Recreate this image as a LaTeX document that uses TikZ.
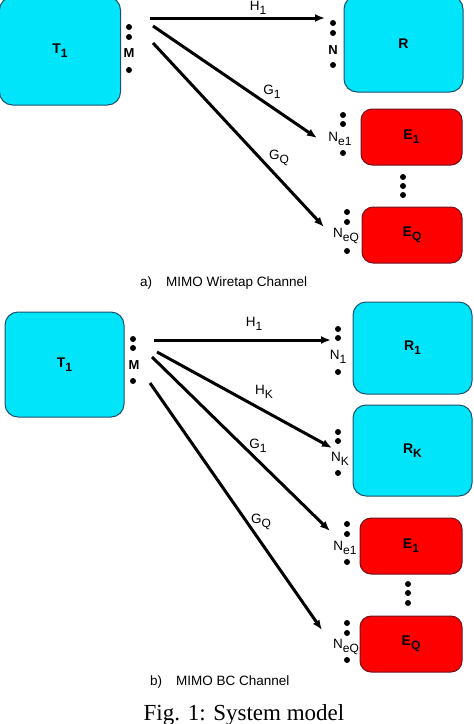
\documentclass[tikz,border=0pt]{standalone}
\usepackage{fontspec}
\setmainfont{Liberation Sans}
\newfontfamily\capserif{Liberation Serif}
\usetikzlibrary{arrows.meta}
\newcommand\lowsub[1]{\raisebox{-0.5ex}{\fontsize{12}{12}\selectfont #1}}
\definecolor{rxcyan}{RGB}{0,229,250}
\definecolor{rxedge}{RGB}{30,80,110}
\definecolor{evred}{RGB}{255,0,0}
\definecolor{evedge}{RGB}{110,20,30}
\tikzset{
  cbox/.style={draw=rxedge, fill=rxcyan, line width=1pt, rounded corners=13pt, inner sep=0pt, font=\fontsize{14}{14}\selectfont\bfseries},
  rbox/.style={draw=evedge, fill=evred, line width=1pt, rounded corners=11pt, inner sep=0pt, font=\fontsize{14}{14}\selectfont\bfseries},
  dotn/.style={circle, fill=black, inner sep=0pt, minimum size=6pt},
  antl/.style={inner sep=0pt, font=\fontsize{13}{13}\selectfont\bfseries},
  chl/.style={inner sep=0pt, font=\fontsize{13.5}{13.5}\selectfont},
  arr/.style={line width=3pt, -{Latex[length=10pt,width=8pt]}},
  capt/.style={inner sep=0pt, font=\fontsize{13.5}{13.5}\selectfont},
}
\begin{document}
\begin{tikzpicture}[x=1pt,y=-1pt]
\useasboundingbox (0,0) rectangle (474,724);
% ---------------- panel a ----------------
\node[cbox, minimum width=121pt, minimum height=108pt] (Ta) at (60,51) {T\lowsub{1}};
\node[cbox, minimum width=119pt, minimum height=96pt] (Ra) at (403.5,44) {R};
\node[rbox, minimum width=101pt, minimum height=56pt] (E1a) at (411.5,137) {E\lowsub{1}};
\node[rbox, minimum width=100pt, minimum height=56pt] (EQa) at (412,235) {E\lowsub{Q}};
% M dots
\node[dotn] (ma1) at (129,27) {};
\node[dotn] (ma2) at (129,37) {};
\node[antl] (ma) at (129,53) {M};
\node[dotn] (ma3) at (129,70) {};
% N dots
\node[dotn] (na1) at (333,23) {};
\node[dotn] (na2) at (333,33) {};
\node[antl] (na) at (333,50) {N};
\node[dotn] (na3) at (333,65) {};
% Ne1
\node[dotn] (nea1) at (343,115) {};
\node[dotn] (nea2) at (343,124) {};
\node[chl] (nea) at (340,139) {N\lowsub{e1}};
\node[dotn] (nea3) at (343,153) {};
% NeQ
\node[dotn] (neqa1) at (347,212) {};
\node[dotn] (neqa2) at (347,222) {};
\node[chl] (neqa) at (346,236) {N\lowsub{eQ}};
\node[dotn] (neqa3) at (347,251) {};
% vertical dots between E1 and EQ
\node[dotn] (va1) at (403,177) {};
\node[dotn] (va2) at (403,186) {};
\node[dotn] (va3) at (403,195) {};
% arrows
\coordinate (sa1) at (150,18);
\coordinate (ta1) at (325,18);
\coordinate (sa2) at (153,26);
\coordinate (ta2) at (317,138);
\coordinate (sa3) at (153,43);
\coordinate (ta3) at (324,227);
\draw[arr] (sa1) -- (ta1);
\draw[arr] (sa2) -- (ta2);
\draw[arr] (sa3) -- (ta3);
\node[chl] (ha) at (258,8) {H\lowsub{1}};
\node[chl] (ga1) at (272,92) {G\lowsub{1}};
\node[chl] (gaq) at (279,158) {G\lowsub{Q}};
\node[capt, anchor=west] (capa) at (140,283) {a)\hspace{14pt}MIMO Wiretap Channel};
% ---------------- panel b ----------------
\node[cbox, minimum width=119pt, minimum height=105pt] (Tb) at (64.5,364.5) {T\lowsub{1}};
\node[cbox, minimum width=119pt, minimum height=92pt] (R1b) at (412.5,348) {R\lowsub{1}};
\node[cbox, minimum width=119pt, minimum height=91pt] (RKb) at (412.5,450.5) {R\lowsub{K}};
\node[rbox, minimum width=102pt, minimum height=56pt] (E1b) at (411,546) {E\lowsub{1}};
\node[rbox, minimum width=102pt, minimum height=56pt] (EQb) at (411,644) {E\lowsub{Q}};
% M dots
\node[dotn] (mb1) at (133,339) {};
\node[dotn] (mb2) at (133,348) {};
\node[antl] (mb) at (134,365) {M};
\node[dotn] (mb3) at (133,381) {};
% N1
\node[dotn] (n1b1) at (338,329) {};
\node[dotn] (n1b2) at (338,338) {};
\node[chl] (n1b) at (338,357) {N\lowsub{1}};
\node[dotn] (n1b3) at (338,372) {};
% NK
\node[dotn] (nkb1) at (338,432) {};
\node[dotn] (nkb2) at (338,441) {};
\node[chl] (nkb) at (340,459) {N\lowsub{K}};
\node[dotn] (nkb3) at (338,473) {};
% Ne1
\node[dotn] (neb1) at (347,524) {};
\node[dotn] (neb2) at (347,534) {};
\node[chl] (neb) at (345,548) {N\lowsub{e1}};
\node[dotn] (neb3) at (347,562) {};
% NeQ
\node[dotn] (neqb1) at (347,623) {};
\node[dotn] (neqb2) at (347,633) {};
\node[chl] (neqb) at (346,647) {N\lowsub{eQ}};
\node[dotn] (neqb3) at (347,660) {};
% vertical dots
\node[dotn] (vb1) at (408,584) {};
\node[dotn] (vb2) at (408,593) {};
\node[dotn] (vb3) at (408,603) {};
% arrows
\coordinate (sb1) at (154,340);
\coordinate (tb1) at (331,340);
\coordinate (sb2) at (157,352);
\coordinate (tb2) at (332,448);
\coordinate (sb3) at (152,357);
\coordinate (tb3) at (330,531);
\coordinate (sb4) at (150,383);
\coordinate (tb4) at (322,630);
\draw[arr] (sb1) -- (tb1);
\draw[arr] (sb2) -- (tb2);
\draw[arr] (sb3) -- (tb3);
\draw[arr] (sb4) -- (tb4);
\node[chl] (hb1) at (254,324) {H\lowsub{1}};
\node[chl] (hbk) at (264,392) {H\lowsub{K}};
\node[chl] (gb1) at (258,446) {G\lowsub{1}};
\node[chl] (gbq) at (261,522) {G\lowsub{Q}};
\node[capt, anchor=west] (capb) at (150,682) {b)\hspace{14pt}MIMO BC Channel};
\node[inner sep=0pt, font=\capserif\fontsize{23}{23}\selectfont, anchor=base] (fig) at (244,720) {Fig. 1: System model};
\end{tikzpicture}
\end{document}
